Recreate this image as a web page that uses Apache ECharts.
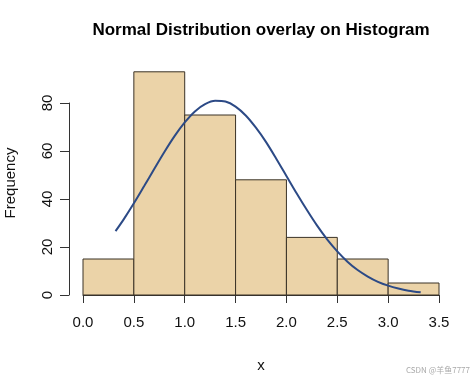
<!DOCTYPE html>
<html><head><meta charset="utf-8">
<script src="https://cdn.jsdelivr.net/npm/echarts@6/dist/echarts.min.js"></script>
<style>html,body{margin:0;padding:0;background:#fff}#c{width:474px;height:378px}</style>
</head><body><div id="c"></div>
<script>
const binStart = [0.0, 0.5, 1.0, 1.5, 2.0, 2.5, 3.0];
const binEnd   = [0.5, 1.0, 1.5, 2.0, 2.5, 3.0, 3.5];
const counts   = [15, 93, 75, 48, 24, 15, 5];
const curveX = [0.32,0.4,0.5,0.6,0.7,0.8,0.9,1.0,1.1,1.2,1.3,1.4,1.5,1.6,1.7,1.8,1.9,2.0,2.1,2.2,2.3,2.4,2.5,2.6,2.7,2.8,2.9,3.0,3.1,3.2,3.32];
const curveY = [26.6,31.5,38.2,45.3,52.5,59.6,66.2,71.9,76.5,79.5,80.9,80.6,78.5,74.8,69.7,63.7,56.8,49.6,42.4,35.5,29.0,23.2,18.2,13.9,10.4,7.7,5.5,3.9,2.7,1.8,1.1];
const xTicks = ['0.0','0.5','1.0','1.5','2.0','2.5','3.0','3.5'];
const yTicks = ['0','20','40','60','80'];

const font = '"Liberation Sans", Arial, sans-serif';
const chart = echarts.init(document.getElementById('c'), null, {renderer:'canvas'});
const hist = binStart.map((s,i)=>[s, binEnd[i], counts[i]]);
const curve = curveX.map((x,i)=>[x, curveY[i]]);
chart.setOption({
  animation:false,
  backgroundColor:'#fff',
  grid:[
    {left:83, right:35, top:55, bottom:83},
    {left:69, right:35, top:103, bottom:83}
  ],
  xAxis:[
    {type:'value', gridIndex:0, min:0, max:3.5, interval:0.5, offset:10,
     axisLine:{show:true, lineStyle:{color:'#333', width:1}},
     axisTick:{show:true, length:8, lineStyle:{color:'#333'}},
     splitLine:{show:false},
     axisLabel:{color:'#111', fontSize:15, fontFamily:font, margin:10,
       formatter:(v)=>{const i=Math.round(v/0.5);return xTicks[i]||'';}}},
    {type:'value', gridIndex:1, min:0, max:3.5, show:false}
  ],
  yAxis:[
    {type:'value', gridIndex:0, min:0, max:100, show:false},
    {type:'value', gridIndex:1, min:0, max:80, interval:20,
     axisLine:{show:true, lineStyle:{color:'#333', width:1}},
     axisTick:{show:true, length:9, lineStyle:{color:'#333'}},
     splitLine:{show:false},
     axisLabel:{color:'#111', fontSize:15, fontFamily:font, rotate:90, margin:14,
       formatter:(v)=>yTicks[Math.round(v/20)]||''}}
  ],
  series:[
    {type:'custom', xAxisIndex:0, yAxisIndex:0, data:hist,
     encode:{x:[0,1], y:2},
     renderItem:(params, api)=>{
       const p0 = api.coord([api.value(0), 0]);
       const p1 = api.coord([api.value(1), api.value(2)]);
       return {type:'rect', shape:{x:p0[0], y:p1[1], width:p1[0]-p0[0], height:p0[1]-p1[1]},
         style:{fill:'#EBD3A8', stroke:'#3a3226', lineWidth:1}};
     }},
    {type:'line', xAxisIndex:0, yAxisIndex:0, data:curve, smooth:0.3, showSymbol:false,
     lineStyle:{color:'#2C4A86', width:2}, z:5}
  ],
  graphic:[
    {type:'text', x:261, y:30, style:{text:'Normal Distribution overlay on Histogram', font:'bold 17px '+font, fill:'#000', align:'center', verticalAlign:'middle'}},
    {type:'text', x:261, y:366, style:{text:'x', font:'15px '+font, fill:'#111', align:'center', verticalAlign:'middle'}},
    {type:'text', x:11, y:183, rotation:Math.PI/2, style:{text:'Frequency', font:'15px '+font, fill:'#111', align:'center', verticalAlign:'middle'}},
    {type:'text', x:470, y:370, style:{text:'CSDN @羊鱼7777', font:'8px "Noto Sans CJK SC", sans-serif', fill:'#aaa', align:'right', verticalAlign:'middle'}}
  ]
});
</script></body></html>
